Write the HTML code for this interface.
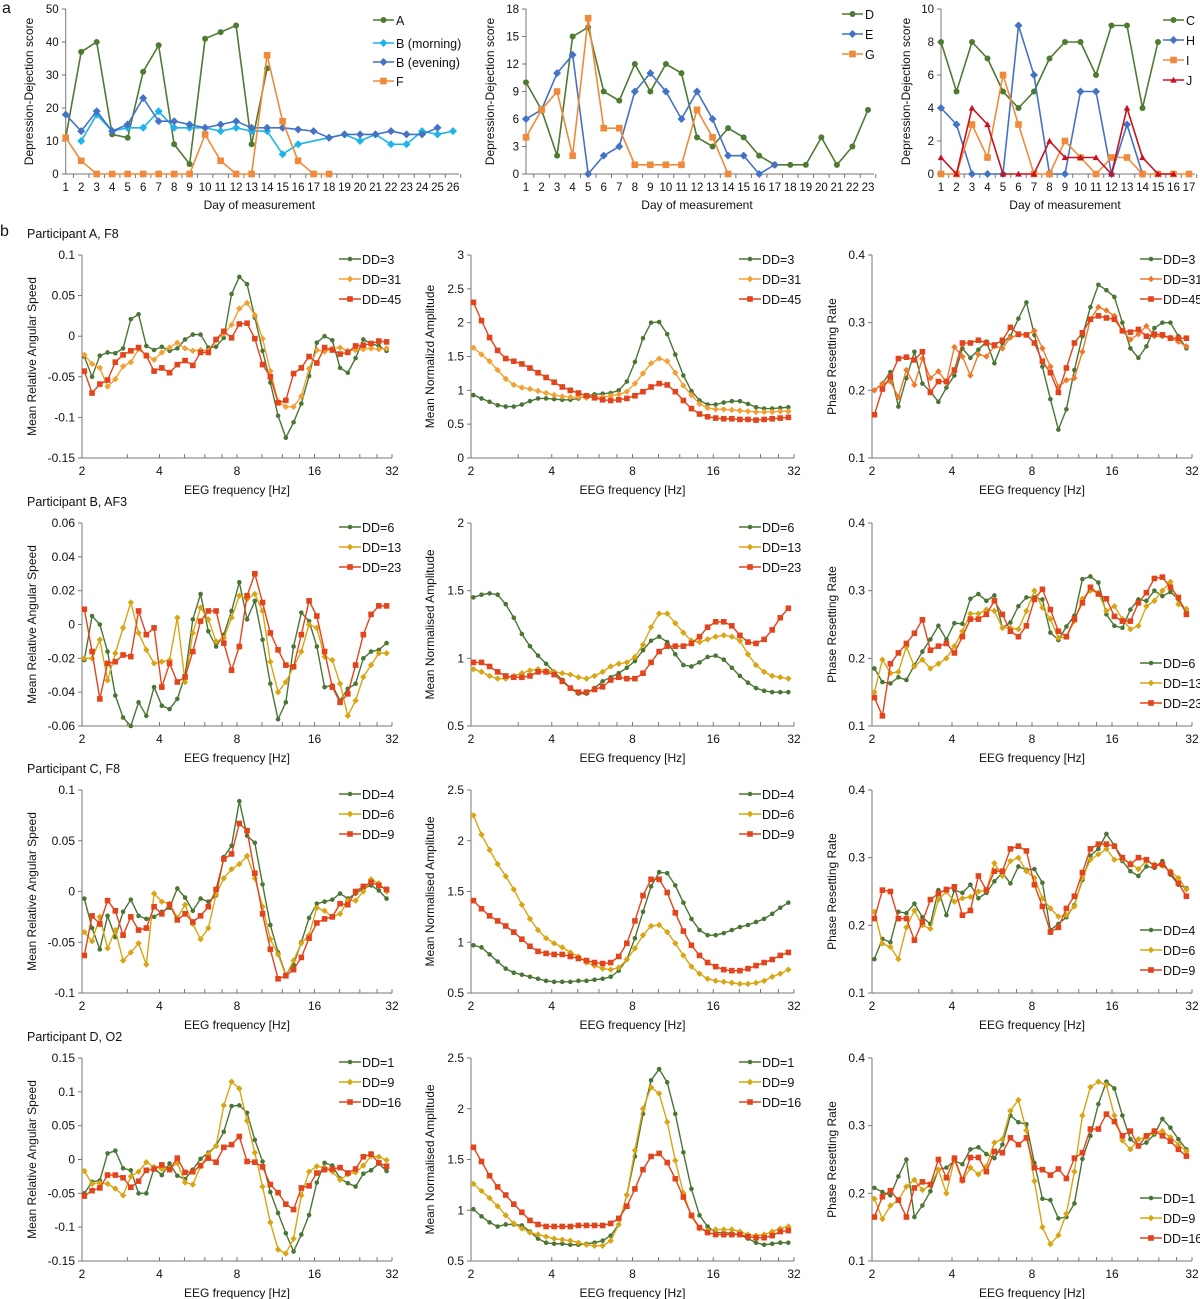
<!DOCTYPE html>
<html><head><meta charset="utf-8"><style>
html,body{margin:0;padding:0;background:#fff;}
svg{display:block;font-family:"Liberation Sans",Arial,sans-serif;}
</style></head><body>
<svg id="fig" width="1200" height="1299" viewBox="0 0 1200 1299" xmlns="http://www.w3.org/2000/svg"></svg>
<script>
// ---------- Panel a data ----------
const aDays1 = [1,2,3,4,5,6,7,8,9,10,11,12,13,14,15,16,17,18,19,20,21,22,23,24,25,26];
const aA  = [11,37,40,12,11,31,39,9,3,41,43,45,9,32];
const aBm = [null,10,18,13,14,14,19,14,14,14,13,14,13,13,6,9,null,11,12,10,12,9,9,13,12,13];
const aBe = [18,13,19,13,15,23,16,16,15,14,15,16,14,14,14,13.5,13,11,12,12,12,13,12,12,14];
const aF  = [11,4,0,0,0,0,0,0,0,12,4,0,0,36,16,4,0,0];
const aD = [10,7,2,15,16,9,8,12,9,12,11,4,3,5,4,2,1,1,1,4,1,3,7];
const aE = [6,7,11,13,0,2,3,9,11,9,6,9,6,2,2,0,1];
const aG = [4,7,9,2,17,5,5,1,1,1,1,7,4,0];
const aC = [8,5,8,7,5,4,5,7,8,8,6,9,9,4,8];
const aH = [4,3,0,0,0,9,6,0,0,5,5,0,3,0];
const aI = [0,0,3,1,6,3,0,0,2,1,0,1,1,0,0,0,0];
const aJ = [1,0,4,3,0,0,0,2,1,1,1,0,4,1,0,0];
const a1YTicks = [0,10,20,30,40,50];
const a2YTicks = [0,3,6,9,12,15,18];
const a3YTicks = [0,2,4,6,8,10];

// ---------- Panel b data ----------
const freqs = Array.from({length:40},(_, i)=>Math.pow(2, 1 + (i + 0.3) / 10));
const xTickLabels = [2,4,8,16,32];

const r1L_3  = [-0.025,-0.05,-0.024,-0.02,-0.021,-0.015,0.021,0.027,-0.012,-0.017,-0.013,-0.018,-0.015,-0.004,0.002,0.002,-0.014,-0.013,-0.002,0.052,0.073,0.064,0.023,-0.018,-0.057,-0.098,-0.125,-0.106,-0.083,-0.049,-0.008,0,-0.005,-0.039,-0.045,-0.027,-0.004,-0.009,-0.012,-0.018];
const r1L_31 = [-0.023,-0.034,-0.039,-0.062,-0.053,-0.037,-0.032,-0.016,-0.023,-0.029,-0.02,-0.014,-0.008,-0.015,-0.018,-0.017,-0.018,-0.005,0.003,0.014,0.034,0.041,0.026,-0.003,-0.043,-0.08,-0.087,-0.087,-0.074,-0.04,-0.017,-0.019,-0.015,-0.014,-0.018,-0.017,-0.016,-0.015,-0.016,-0.015];
const r1L_45 = [-0.043,-0.07,-0.059,-0.054,-0.032,-0.023,-0.018,-0.014,-0.024,-0.043,-0.039,-0.045,-0.035,-0.03,-0.036,-0.02,-0.02,-0.004,0.006,-0.002,0.015,0.016,-0.003,-0.035,-0.05,-0.082,-0.079,-0.046,-0.039,-0.025,-0.033,-0.014,-0.017,-0.022,-0.02,-0.012,-0.011,-0.009,-0.006,-0.007];
const r1M_3  = [0.93,0.88,0.83,0.78,0.76,0.76,0.79,0.84,0.88,0.88,0.87,0.86,0.86,0.88,0.92,0.94,0.95,0.96,1.0,1.13,1.42,1.77,2.0,2.01,1.83,1.53,1.22,0.99,0.85,0.79,0.79,0.82,0.84,0.84,0.8,0.75,0.73,0.73,0.74,0.75];
const r1M_31 = [1.63,1.53,1.43,1.3,1.17,1.08,1.04,1.02,0.99,0.96,0.93,0.91,0.9,0.9,0.89,0.9,0.9,0.92,0.94,0.98,1.1,1.25,1.4,1.47,1.43,1.26,1.07,0.93,0.8,0.74,0.72,0.72,0.71,0.7,0.69,0.68,0.68,0.68,0.69,0.69];
const r1M_45 = [2.3,2.03,1.78,1.59,1.47,1.43,1.39,1.33,1.26,1.19,1.12,1.05,1.0,0.96,0.92,0.89,0.86,0.85,0.86,0.88,0.92,0.98,1.05,1.1,1.08,0.98,0.85,0.73,0.65,0.61,0.59,0.58,0.58,0.57,0.57,0.56,0.57,0.58,0.59,0.6];
const r1R_3  = [0.2,0.21,0.227,0.176,0.218,0.257,0.21,0.198,0.183,0.204,0.222,0.262,0.248,0.26,0.272,0.24,0.27,0.28,0.306,0.33,0.282,0.235,0.187,0.142,0.172,0.23,0.28,0.323,0.356,0.348,0.338,0.3,0.262,0.248,0.265,0.292,0.3,0.3,0.28,0.262];
const r1R_31 = [0.2,0.21,0.213,0.19,0.23,0.208,0.247,0.218,0.228,0.212,0.264,0.25,0.222,0.253,0.25,0.265,0.262,0.278,0.282,0.282,0.288,0.262,0.235,0.205,0.215,0.218,0.257,0.305,0.323,0.318,0.31,0.288,0.275,0.283,0.295,0.28,0.28,0.278,0.272,0.265];
const r1R_45 = [0.164,0.202,0.22,0.247,0.249,0.245,0.257,0.197,0.213,0.213,0.23,0.27,0.27,0.274,0.27,0.267,0.274,0.293,0.283,0.282,0.27,0.243,0.226,0.197,0.233,0.27,0.285,0.305,0.31,0.307,0.305,0.288,0.286,0.29,0.28,0.283,0.282,0.277,0.277,0.277];

const r2L_6  = [-0.021,0.005,0.0,-0.016,-0.042,-0.055,-0.06,-0.046,-0.054,-0.037,-0.048,-0.05,-0.044,-0.03,0.003,0.018,-0.004,-0.013,-0.006,0.008,0.025,0.003,0.014,-0.009,-0.035,-0.056,-0.046,-0.013,0.007,0.002,-0.013,-0.037,-0.036,-0.045,-0.038,-0.035,-0.02,-0.016,-0.015,-0.011];
const r2L_13 = [-0.02,-0.02,-0.009,-0.033,-0.017,-0.002,0.013,-0.005,-0.015,-0.023,-0.022,-0.021,0.004,-0.034,-0.005,0.01,0.003,-0.01,-0.008,0.004,0.017,0.015,0.018,0.008,-0.022,-0.04,-0.034,-0.025,-0.016,0.0,-0.002,-0.019,-0.021,-0.035,-0.054,-0.045,-0.031,-0.024,-0.017,-0.017];
const r2L_23 = [0.009,-0.016,-0.044,-0.023,-0.022,-0.018,-0.019,0.008,-0.006,-0.002,-0.037,-0.023,-0.034,-0.031,-0.016,0.002,0.008,0.008,-0.011,-0.027,-0.013,0.017,0.03,0.013,-0.005,-0.015,-0.024,-0.025,-0.006,0.014,0.005,-0.016,-0.037,-0.046,-0.041,-0.024,-0.006,0.006,0.011,0.011];
const r2M_6  = [1.45,1.47,1.48,1.47,1.4,1.3,1.18,1.09,1.02,0.96,0.9,0.84,0.78,0.74,0.74,0.78,0.83,0.86,0.89,0.93,0.98,1.06,1.13,1.16,1.12,1.03,0.95,0.94,0.97,1.01,1.02,0.99,0.93,0.87,0.82,0.78,0.76,0.75,0.75,0.75];
const r2M_13 = [0.92,0.9,0.87,0.85,0.85,0.87,0.89,0.91,0.92,0.91,0.9,0.89,0.88,0.86,0.85,0.87,0.9,0.94,0.96,0.97,1.01,1.1,1.23,1.33,1.33,1.26,1.19,1.13,1.12,1.14,1.16,1.17,1.16,1.13,1.03,0.95,0.9,0.87,0.86,0.85];
const r2M_23 = [0.97,0.97,0.94,0.9,0.87,0.86,0.86,0.87,0.9,0.9,0.88,0.83,0.78,0.75,0.75,0.77,0.79,0.84,0.86,0.85,0.85,0.89,0.97,1.05,1.09,1.09,1.09,1.11,1.16,1.23,1.27,1.27,1.24,1.17,1.12,1.11,1.14,1.21,1.3,1.37];
const r2R_6  = [0.185,0.165,0.163,0.172,0.168,0.19,0.21,0.228,0.248,0.228,0.252,0.251,0.288,0.295,0.285,0.293,0.245,0.253,0.277,0.29,0.29,0.287,0.238,0.227,0.247,0.263,0.317,0.321,0.312,0.265,0.248,0.245,0.272,0.287,0.285,0.3,0.292,0.298,0.287,0.27];
const r2R_13 = [0.15,0.198,0.178,0.18,0.217,0.188,0.198,0.185,0.192,0.2,0.218,0.24,0.266,0.266,0.272,0.27,0.245,0.245,0.243,0.27,0.3,0.275,0.258,0.23,0.232,0.255,0.288,0.3,0.297,0.27,0.277,0.258,0.243,0.248,0.277,0.285,0.3,0.313,0.28,0.273];
const r2R_23 = [0.142,0.115,0.192,0.208,0.222,0.237,0.257,0.212,0.218,0.222,0.208,0.232,0.258,0.258,0.265,0.285,0.265,0.24,0.232,0.248,0.287,0.302,0.272,0.24,0.232,0.258,0.282,0.305,0.295,0.288,0.262,0.255,0.255,0.282,0.297,0.318,0.32,0.305,0.29,0.265];

const r3L_4 = [-0.007,-0.036,-0.057,-0.024,-0.045,-0.02,-0.008,-0.024,-0.027,-0.025,-0.02,-0.016,0.003,-0.006,-0.019,-0.007,-0.01,-0.004,0.034,0.045,0.089,0.055,0.048,0.007,-0.033,-0.06,-0.082,-0.072,-0.05,-0.026,-0.012,-0.01,-0.008,-0.002,-0.007,-0.002,0.003,0.006,0.001,-0.007];
const r3L_6 = [-0.04,-0.049,-0.025,-0.056,-0.038,-0.068,-0.06,-0.051,-0.072,-0.002,-0.01,-0.012,-0.026,-0.013,-0.032,-0.047,-0.036,-0.003,0.013,0.022,0.027,0.035,0.013,-0.015,-0.047,-0.062,-0.083,-0.068,-0.051,-0.043,-0.016,-0.019,-0.025,-0.022,-0.009,-0.009,0.0,0.012,0.008,0.0];
const r3L_9 = [-0.063,-0.024,-0.032,-0.009,-0.019,-0.043,-0.025,-0.038,-0.036,-0.015,-0.022,-0.013,-0.028,-0.022,-0.03,-0.024,-0.015,0.002,0.032,0.037,0.067,0.06,0.018,-0.022,-0.057,-0.086,-0.083,-0.077,-0.065,-0.046,-0.031,-0.027,-0.025,-0.012,-0.013,0.0,0.005,0.009,0.006,0.002];
const r3M_4 = [0.97,0.95,0.88,0.81,0.74,0.7,0.68,0.66,0.64,0.62,0.61,0.61,0.61,0.62,0.62,0.63,0.64,0.66,0.72,0.83,1.04,1.3,1.55,1.69,1.68,1.56,1.39,1.23,1.12,1.07,1.07,1.09,1.12,1.15,1.17,1.2,1.23,1.28,1.34,1.39];
const r3M_6 = [2.25,2.06,1.91,1.77,1.65,1.52,1.37,1.23,1.12,1.04,0.99,0.95,0.9,0.86,0.8,0.77,0.74,0.73,0.75,0.83,0.94,1.07,1.16,1.17,1.1,0.99,0.87,0.76,0.69,0.64,0.62,0.61,0.6,0.59,0.59,0.6,0.62,0.66,0.69,0.73];
const r3M_9 = [1.41,1.33,1.26,1.21,1.16,1.1,1.03,0.96,0.91,0.89,0.88,0.88,0.86,0.84,0.82,0.8,0.79,0.8,0.86,0.99,1.21,1.46,1.62,1.62,1.49,1.29,1.11,0.97,0.87,0.8,0.76,0.73,0.72,0.72,0.74,0.77,0.8,0.83,0.87,0.9];
const r3R_4 = [0.15,0.18,0.175,0.22,0.218,0.232,0.212,0.202,0.252,0.215,0.252,0.248,0.26,0.24,0.248,0.265,0.278,0.262,0.287,0.282,0.283,0.263,0.193,0.202,0.212,0.23,0.267,0.303,0.313,0.335,0.318,0.295,0.28,0.273,0.287,0.285,0.295,0.275,0.26,0.255];
const r3R_6 = [0.22,0.173,0.168,0.15,0.197,0.222,0.2,0.195,0.238,0.25,0.235,0.24,0.242,0.25,0.252,0.292,0.273,0.295,0.3,0.28,0.27,0.24,0.225,0.213,0.215,0.228,0.27,0.297,0.305,0.313,0.297,0.298,0.292,0.283,0.295,0.29,0.288,0.28,0.27,0.253];
const r3R_9 = [0.21,0.252,0.25,0.21,0.21,0.178,0.205,0.238,0.247,0.253,0.257,0.215,0.222,0.273,0.252,0.28,0.28,0.313,0.317,0.31,0.26,0.228,0.19,0.197,0.225,0.243,0.278,0.313,0.32,0.32,0.317,0.3,0.29,0.3,0.297,0.288,0.29,0.278,0.262,0.243];

const r4L_1  = [-0.05,-0.033,-0.031,0.009,0.013,-0.013,-0.016,-0.05,-0.05,-0.013,-0.023,-0.006,-0.024,-0.029,-0.015,0.001,0.01,0.02,0.041,0.079,0.08,0.069,0.029,-0.003,-0.048,-0.079,-0.109,-0.136,-0.111,-0.082,-0.034,-0.005,-0.009,-0.028,-0.035,-0.04,-0.021,-0.016,-0.006,-0.017];
const r4L_9  = [-0.017,-0.036,-0.035,-0.036,-0.043,-0.053,-0.025,-0.018,-0.004,-0.011,-0.014,-0.014,-0.005,-0.034,-0.037,-0.01,0.008,0.02,0.08,0.115,0.105,0.057,0.01,-0.04,-0.093,-0.133,-0.139,-0.117,-0.053,-0.018,-0.01,-0.012,-0.018,-0.03,-0.022,-0.019,-0.009,0.005,0.004,-0.001];
const r4L_16 = [-0.054,-0.046,-0.042,-0.023,-0.023,-0.027,-0.041,-0.032,-0.016,-0.014,-0.008,-0.015,0.002,-0.019,-0.018,-0.009,0.002,-0.004,0.018,0.022,0.034,-0.003,-0.004,-0.011,-0.037,-0.049,-0.066,-0.074,-0.042,-0.039,-0.02,-0.015,-0.014,-0.012,-0.02,-0.014,0.004,0.008,-0.005,-0.01];
const r4M_1  = [1.01,0.94,0.88,0.84,0.86,0.86,0.85,0.79,0.72,0.68,0.67,0.67,0.66,0.66,0.67,0.68,0.7,0.75,0.86,1.15,1.53,1.95,2.28,2.39,2.26,1.95,1.57,1.21,0.95,0.84,0.78,0.78,0.77,0.76,0.72,0.68,0.66,0.67,0.68,0.68];
const r4M_9  = [1.26,1.19,1.12,1.04,0.95,0.87,0.82,0.78,0.76,0.74,0.72,0.71,0.7,0.68,0.66,0.65,0.65,0.7,0.86,1.15,1.59,2.0,2.21,2.15,1.87,1.49,1.17,0.94,0.82,0.8,0.81,0.81,0.81,0.79,0.76,0.75,0.76,0.79,0.82,0.84];
const r4M_16 = [1.62,1.48,1.34,1.23,1.15,1.06,0.98,0.9,0.86,0.84,0.84,0.84,0.84,0.85,0.85,0.85,0.85,0.87,0.92,1.04,1.21,1.4,1.53,1.56,1.47,1.31,1.13,0.95,0.83,0.78,0.76,0.76,0.76,0.76,0.74,0.73,0.73,0.75,0.79,0.8];
const r4R_1  = [0.208,0.202,0.197,0.225,0.25,0.165,0.182,0.203,0.235,0.238,0.248,0.243,0.265,0.268,0.258,0.252,0.272,0.315,0.305,0.302,0.245,0.192,0.19,0.163,0.165,0.185,0.251,0.285,0.332,0.365,0.355,0.315,0.28,0.27,0.275,0.287,0.31,0.297,0.28,0.265];
const r4R_9  = [0.192,0.162,0.182,0.19,0.21,0.22,0.205,0.212,0.235,0.2,0.25,0.218,0.238,0.228,0.24,0.275,0.28,0.322,0.338,0.293,0.218,0.15,0.125,0.138,0.17,0.232,0.315,0.357,0.365,0.36,0.315,0.278,0.265,0.28,0.283,0.29,0.292,0.283,0.272,0.262];
const r4R_16 = [0.165,0.195,0.204,0.19,0.165,0.208,0.217,0.213,0.25,0.223,0.252,0.22,0.253,0.253,0.232,0.262,0.26,0.282,0.272,0.282,0.238,0.235,0.227,0.236,0.222,0.252,0.26,0.295,0.295,0.317,0.306,0.285,0.292,0.27,0.285,0.292,0.285,0.277,0.265,0.255];

// ---------- drawing ----------
const NS = "http://www.w3.org/2000/svg";
const svg = document.getElementById('fig');
function mk(tag, attrs, parent){
  const e = document.createElementNS(NS, tag);
  for (const k in attrs) e.setAttribute(k, attrs[k]);
  (parent || svg).appendChild(e);
  return e;
}
function txt(s, x, y, size, anchor, parent, name){
  const t = mk('text', {x:x, y:y, 'font-size':size, 'text-anchor':anchor||'start', fill:'#111'}, parent);
  t.textContent = s;
  
  
  return t;
}
function marker(kind, x, y, color, g, sz){
  let e;
  if (kind === 'circle') e = mk('circle', {cx:x, cy:y, r:sz||2.3, fill:color}, g);
  else if (kind === 'diamond') { const s = sz||3.2; e = mk('polygon', {points:`${x},${y-s} ${x+s},${y} ${x},${y+s} ${x-s},${y}`, fill:color}, g); }
  else if (kind === 'square') { const s = sz||2.8; e = mk('rect', {x:x-s, y:y-s, width:2*s, height:2*s, fill:color}, g); }
  else { const s = sz||3.8; e = mk('polygon', {points:`${x},${y-s} ${x+s},${y+s*0.8} ${x-s},${y+s*0.8}`, fill:color}, g); }
  
  
}
const fmt = v => String(parseFloat(v.toFixed(3)));

// Panel a
function panelA(cfg){
  const g = mk('g', {}, svg);
  
  
  const {x0, x1, y0, y1, nDays, ymax} = cfg;
  const X = d => x0 + (d - 1) / (nDays - 1) * (x1 - x0);
  const Y = v => y1 - v / ymax * (y1 - y0);
  const ax = mk('path', {d:`M${x0},${y0} L${x0},${y1} L${x1+6},${y1}`, stroke:'#777', fill:'none', 'stroke-width':1}, g);
  
  
  cfg.yticks.forEach(v => {
    mk('line', {x1:x0-4, x2:x0, y1:Y(v), y2:Y(v), stroke:'#777'}, g);
    txt(String(v), x0-7, Y(v)+4, 11.5, 'end', g, 'y-tick-label');
  });
  for (let d = 1; d <= nDays; d++) {
    mk('line', {x1:X(d)+(X(2)-X(1))/2, x2:X(d)+(X(2)-X(1))/2, y1:y1, y2:y1+4, stroke:'#777'}, g);
    txt(String(d), X(d), y1+17, 11.5, 'middle', g, 'x-tick-label');
  }
  txt('Day of measurement', (x0+x1)/2, y1+35, 12, 'middle', g, 'x-axis-title');
  const yt = txt('Depression-Dejection score', 0, 0, 12, 'middle', g, 'y-axis-title');
  yt.setAttribute('transform', `translate(${cfg.ylx},${(y0+y1)/2}) rotate(-90)`);
  cfg.series.forEach((s, si) => {
    const pts = [];
    s.data.forEach((v, i) => { if (v !== null) pts.push([X(i+1), Y(v)]); });
    const p = mk('polyline', {points:pts.map(q=>q.join(',')).join(' '), fill:'none', stroke:s.color, 'stroke-width':1.6}, g);
    
    
    pts.forEach(q => marker(s.m, q[0], q[1], s.color, g, s.m==='circle'?3:(s.m==='diamond'?4:3.3)));
    const ly = cfg.legY[si];
    mk('line', {x1:cfg.legX, x2:cfg.legX+21, y1:ly, y2:ly, stroke:s.color, 'stroke-width':1.6}, g);
    marker(s.m, cfg.legX+10.5, ly, s.color, g, s.m==='circle'?3:(s.m==='diamond'?4:3.3));
    txt(s.label, cfg.legX+23, ly+5, 12.5, 'start', g, 'legend-label');
  });
}
const GREEN_A = '#4f7a32', CYAN = '#1cb4ea', BLUE = '#4472c4', ORANGE_A = '#f08a3a', RED_A = '#c8101e';
txt('a', 2, 13, 16, 'start', svg, 'panel-label-a');
panelA({name:'panel-a1', x0:65.7, x1:453, y0:9, y1:174, nDays:26, ymax:50, yticks:a1YTicks, ylx:33, legX:373, legY:[20,43,62,81],
  series:[{label:'A',data:aA,color:GREEN_A,m:'circle'},{label:'B (morning)',data:aBm,color:CYAN,m:'diamond'},{label:'B (evening)',data:aBe,color:BLUE,m:'diamond'},{label:'F',data:aF,color:ORANGE_A,m:'square'}]});
panelA({name:'panel-a2', x0:526, x1:868, y0:9, y1:174, nDays:23, ymax:18, yticks:a2YTicks, ylx:494, legX:842, legY:[14,34,54],
  series:[{label:'D',data:aD,color:GREEN_A,m:'circle'},{label:'E',data:aE,color:BLUE,m:'diamond'},{label:'G',data:aG,color:ORANGE_A,m:'square'}]});
panelA({name:'panel-a3', x0:941, x1:1189, y0:9, y1:174, nDays:17, ymax:10, yticks:a3YTicks, ylx:910, legX:1163, legY:[20,40,60,80],
  series:[{label:'C',data:aC,color:GREEN_A,m:'circle'},{label:'H',data:aH,color:BLUE,m:'diamond'},{label:'I',data:aI,color:ORANGE_A,m:'square'},{label:'J',data:aJ,color:RED_A,m:'triangle'}]});

// Panel b
txt('b', 0, 236, 16, 'start', svg, 'panel-label-b');
const cols = [{x0:82,x1:392,ylx:36,legX:339},{x0:471,x1:794,ylx:434,legX:739},{x0:872,x1:1192,ylx:836,legX:1140}];
const rowTops = [255,523,790,1058];
const PH = 203;
const GREEN = '#4a7534', GOLD = '#d9a514', ORANGE1 = '#f2a033', RED = '#e2441c', ORANGE_R = '#f07a2a';
const minorTicks = [3,4,5,6,7,8,10,12,14,16,20,24,28,32];
function panelB(cfg){
  const col = cols[cfg.col], top = rowTops[cfg.row], bot = top + PH;
  const g = mk('g', {}, svg);
  
  
  const X = f => col.x0 + (Math.log2(f) - 1) / 4 * (col.x1 - col.x0);
  const Y = v => bot - (v - cfg.ymin) / (cfg.ymax - cfg.ymin) * PH;
  const ax = mk('path', {d:`M${col.x0},${top} L${col.x0},${bot} L${col.x1},${bot}`, stroke:'#777', fill:'none', 'stroke-width':1}, g);
  
  
  const n = Math.round((cfg.ymax - cfg.ymin) / cfg.step);
  for (let k = 0; k <= n; k++) {
    const v = cfg.ymin + k * cfg.step;
    mk('line', {x1:col.x0-4, x2:col.x0, y1:Y(v), y2:Y(v), stroke:'#777'}, g);
    txt(fmt(v), col.x0-7, Y(v)+4, 12, 'end', g, 'y-tick-label');
  }
  minorTicks.forEach(f => mk('line', {x1:X(f), x2:X(f), y1:bot-4, y2:bot, stroke:'#777'}, g));
  xTickLabels.forEach(f => txt(String(f), X(f), bot+17, 12, 'middle', g, 'x-tick-label'));
  txt('EEG frequency [Hz]', (col.x0+col.x1)/2, bot+36, 12, 'middle', g, 'x-axis-title');
  const yt = txt(cfg.ytitle, 0, 0, 12, 'middle', g, 'y-axis-title');
  yt.setAttribute('transform', `translate(${col.ylx},${(top+bot)/2}) rotate(-90)`);
  const legTop = cfg.legBottom ? top + 140 : top + 4;
  cfg.series.forEach((s, si) => {
    const pts = s.data.map((v, i) => [X(freqs[i]), Y(v)]);
    const p = mk('polyline', {points:pts.map(q=>q.join(',')).join(' '), fill:'none', stroke:s.color, 'stroke-width':1.4}, g);
    
    
    pts.forEach(q => marker(s.m, q[0], q[1], s.color, g));
    const ly = legTop + si * 20;
    mk('line', {x1:col.legX, x2:col.legX+22, y1:ly, y2:ly, stroke:s.color, 'stroke-width':1.4}, g);
    marker(s.m, col.legX+11, ly, s.color, g);
    txt(s.label, col.legX+23, ly+5, 12.5, 'start', g, 'legend-label');
  });
}
const rowTitles = ['Participant A, F8','Participant B, AF3','Participant C, F8','Participant D, O2'];
rowTitles.forEach((t, r) => txt(t, 27, rowTops[r] - 17, 12.5, 'start', svg, 'row-title'));
const MRA = 'Mean Relative Angular Speed', MNA = 'Mean Normalised Amplitude', PRR = 'Phase Resetting Rate';
function S(label, data, color, m){ return {label, data, color, m}; }
panelB({name:'panel-b-A-speed', row:0, col:0, ymin:-0.15, ymax:0.1, step:0.05, ytitle:MRA, series:[S('DD=3',r1L_3,GREEN,'circle'),S('DD=31',r1L_31,ORANGE1,'diamond'),S('DD=45',r1L_45,RED,'square')]});
panelB({name:'panel-b-A-amplitude', row:0, col:1, ymin:0, ymax:3, step:0.5, ytitle:'Mean Normalizd Amplitude', series:[S('DD=3',r1M_3,GREEN,'circle'),S('DD=31',r1M_31,ORANGE1,'diamond'),S('DD=45',r1M_45,RED,'square')]});
panelB({name:'panel-b-A-phase', row:0, col:2, ymin:0.1, ymax:0.4, step:0.1, ytitle:PRR, series:[S('DD=3',r1R_3,GREEN,'circle'),S('DD=31',r1R_31,ORANGE_R,'diamond'),S('DD=45',r1R_45,RED,'square')]});
panelB({name:'panel-b-B-speed', row:1, col:0, ymin:-0.06, ymax:0.06, step:0.02, ytitle:MRA, series:[S('DD=6',r2L_6,GREEN,'circle'),S('DD=13',r2L_13,GOLD,'diamond'),S('DD=23',r2L_23,RED,'square')]});
panelB({name:'panel-b-B-amplitude', row:1, col:1, ymin:0.5, ymax:2, step:0.5, ytitle:MNA, series:[S('DD=6',r2M_6,GREEN,'circle'),S('DD=13',r2M_13,GOLD,'diamond'),S('DD=23',r2M_23,RED,'square')]});
panelB({name:'panel-b-B-phase', row:1, col:2, ymin:0.1, ymax:0.4, step:0.1, ytitle:PRR, legBottom:true, series:[S('DD=6',r2R_6,GREEN,'circle'),S('DD=13',r2R_13,GOLD,'diamond'),S('DD=23',r2R_23,RED,'square')]});
panelB({name:'panel-b-C-speed', row:2, col:0, ymin:-0.1, ymax:0.1, step:0.05, ytitle:MRA, series:[S('DD=4',r3L_4,GREEN,'circle'),S('DD=6',r3L_6,GOLD,'diamond'),S('DD=9',r3L_9,RED,'square')]});
panelB({name:'panel-b-C-amplitude', row:2, col:1, ymin:0.5, ymax:2.5, step:0.5, ytitle:MNA, series:[S('DD=4',r3M_4,GREEN,'circle'),S('DD=6',r3M_6,GOLD,'diamond'),S('DD=9',r3M_9,RED,'square')]});
panelB({name:'panel-b-C-phase', row:2, col:2, ymin:0.1, ymax:0.4, step:0.1, ytitle:PRR, legBottom:true, series:[S('DD=4',r3R_4,GREEN,'circle'),S('DD=6',r3R_6,GOLD,'diamond'),S('DD=9',r3R_9,RED,'square')]});
panelB({name:'panel-b-D-speed', row:3, col:0, ymin:-0.15, ymax:0.15, step:0.05, ytitle:MRA, series:[S('DD=1',r4L_1,GREEN,'circle'),S('DD=9',r4L_9,GOLD,'diamond'),S('DD=16',r4L_16,RED,'square')]});
panelB({name:'panel-b-D-amplitude', row:3, col:1, ymin:0.5, ymax:2.5, step:0.5, ytitle:MNA, series:[S('DD=1',r4M_1,GREEN,'circle'),S('DD=9',r4M_9,GOLD,'diamond'),S('DD=16',r4M_16,RED,'square')]});
panelB({name:'panel-b-D-phase', row:3, col:2, ymin:0.1, ymax:0.4, step:0.1, ytitle:PRR, legBottom:true, series:[S('DD=1',r4R_1,GREEN,'circle'),S('DD=9',r4R_9,GOLD,'diamond'),S('DD=16',r4R_16,RED,'square')]});
</script>
</body></html>
